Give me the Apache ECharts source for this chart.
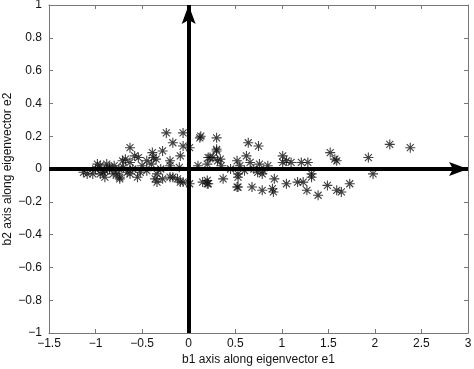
<!DOCTYPE html>
<html><head><meta charset="utf-8">
<script src="https://cdn.jsdelivr.net/npm/echarts@6/dist/echarts.min.js"></script>
<style>html,body{margin:0;padding:0;background:#fff}#c{width:474px;height:369px}</style>
</head><body><div id="c"></div>
<script>
var xTicks = [-1.5, -1, -0.5, 0, 0.5, 1, 1.5, 2, 2.5, 3];
var yTicks = [-1, -0.8, -0.6, -0.4, -0.2, 0, 0.2, 0.4, 0.6, 0.8, 1];
var b1 = [0.30,0.64,0.75,0.30,0.21,0.31,0.62,0.52,0.66,0.76,0.85,1.01,1.01,1.10,1.21,1.28,1.52,1.57,1.59,1.93,1.98,2.16,2.38,
  0.15,0.21,0.37,0.53,0.53,0.68,0.79,0.91,0.92,0.79,1.05,1.17,1.27,1.32,1.23,1.39,1.49,1.59,1.64,1.73,1.32,
  -0.24,-0.06,0.13,-0.17,-0.06,-0.63,-0.28,-0.39,-0.58,-0.54,-0.45,-0.35,-0.09,0.01,-0.71,-0.63,-0.98,-0.88,-0.85,0.23,-0.68,-0.38,-0.20,
  -0.92,-1.03,-1.13,-0.77,-0.66,-0.52,-0.34,-0.28,-0.17,-0.09,-1.09,-0.95,-0.90,-0.81,-0.74,-0.74,-0.63,-0.55,-0.36,-0.34,-0.20,-0.12,-0.06,0.01,0.20,0.52,
  -1.00,-0.95,-0.90,-0.85,-0.80,-0.75,-0.70,-0.60,-0.50,-0.45,-0.40,-0.30,-0.20,-0.10,0.10,0.20,0.35,0.45,0.55,0.60,0.70,
  0.12,0.30,0.26,0.34,1.05,0.20,0.53,0.90,0.80,0.74];
var b2 = [0.19,0.16,0.14,0.11,0.07,0.05,0.08,0.05,0.04,0.03,0.02,0.08,0.04,0.04,0.04,0.04,0.10,0.06,0.05,0.07,-0.03,0.15,0.13,
  -0.08,-0.09,-0.06,-0.05,-0.11,-0.11,-0.13,-0.14,-0.06,-0.03,-0.09,-0.08,-0.13,-0.05,-0.08,-0.16,-0.10,-0.13,-0.14,-0.09,-0.03,
  0.22,0.22,0.20,0.16,0.14,0.13,0.11,0.10,0.08,0.07,0.05,0.06,0.08,0.13,0.05,0.04,0.03,0.03,0.01,0.07,0.06,0.07,0.05,
  -0.02,-0.03,-0.02,-0.03,-0.02,-0.02,-0.03,-0.06,-0.05,-0.08,-0.03,-0.03,-0.05,-0.03,-0.05,-0.06,-0.03,-0.05,-0.06,-0.08,-0.05,-0.06,-0.08,-0.09,-0.09,-0.11,
  0.00,0.02,-0.01,0.00,0.02,0.00,0.01,0.00,0.02,-0.01,0.03,0.00,0.02,0.01,0.02,0.03,0.02,0.00,0.02,-0.01,0.00,
  0.19,0.12,0.07,0.06,0.05,-0.07,-0.03,-0.12,-0.01,-0.02];
var xLabel = 'b1 axis along eigenvector e1';
var yLabel = 'b2 axis along eigenvector e2';

var pts = b1.map(function(v, i){ return [v, b2[i]]; });
function fmt(v){ return String(+v.toFixed(2)).replace('-', '\u2212'); }
var FONT = 'Liberation Sans, Arial, sans-serif';
var frame = {show: true, onZero: false, lineStyle: {color: '#777', width: 1}};
var tickIn = {show: true, inside: true, length: 4, lineStyle: {color: '#777'}};
var arrowHead = 'path://M0,-19M0,0L7,19L0,15L-7,19Z';
var chart = echarts.init(document.getElementById('c'), null, {renderer: 'canvas'});
chart.setOption({
  animation: false,
  backgroundColor: '#fff',
  grid: {left: 49, right: 6, top: 5, bottom: 36, containLabel: false, outerBoundsMode: 'none'},
  xAxis: [{
    type: 'value', min: xTicks[0], max: xTicks[xTicks.length-1], interval: 0.5,
    axisLine: frame, axisTick: tickIn, splitLine: {show: false},
    axisLabel: {color: '#111', fontSize: 12, fontFamily: FONT, margin: 5, formatter: fmt, showMinLabel: true, showMaxLabel: true},
    name: xLabel, nameLocation: 'middle', nameGap: 21, nameMoveOverlap: false,
    nameTextStyle: {color: '#111', fontSize: 12, fontFamily: FONT}
  }, {
    type: 'value', position: 'top', min: xTicks[0], max: xTicks[xTicks.length-1], interval: 0.5,
    axisLine: frame, axisTick: tickIn, axisLabel: {show: false}, splitLine: {show: false}
  }],
  yAxis: [{
    type: 'value', min: yTicks[0], max: yTicks[yTicks.length-1], interval: 0.2,
    axisLine: frame, axisTick: tickIn, splitLine: {show: false},
    axisLabel: {color: '#111', fontSize: 12, fontFamily: FONT, margin: 7, formatter: fmt, showMinLabel: true, showMaxLabel: true},
    name: yLabel, nameLocation: 'middle', nameGap: 35, nameMoveOverlap: false,
    nameTextStyle: {color: '#111', fontSize: 12, fontFamily: FONT}
  }, {
    type: 'value', position: 'right', min: yTicks[0], max: yTicks[yTicks.length-1], interval: 0.2,
    axisLine: frame, axisTick: tickIn, axisLabel: {show: false}, splitLine: {show: false}
  }],
  series: [{
    type: 'scatter',
    data: pts,
    symbol: 'path://M0,-5L0,5M-5,0L5,0M-3.5,-3.5L3.5,3.5M-3.5,3.5L3.5,-3.5',
    symbolSize: 10,
    itemStyle: {color: 'none', borderColor: '#111', borderWidth: 1.1},
    z: 3
  }, {
    type: 'line', data: [], silent: true, z: 5,
    markLine: {
      silent: true, animation: false,
      symbol: ['none', arrowHead], symbolSize: 38, symbolKeepAspect: true,
      label: {show: false},
      lineStyle: {color: '#000', width: 4, type: 'solid'},
      data: [
        [{coord: [xTicks[0], 0]}, {coord: [xTicks[xTicks.length-1], 0], symbolKeepAspect: true}],
        [{coord: [0, yTicks[0]]}, {coord: [0, yTicks[yTicks.length-1]], symbolKeepAspect: true}]
      ]
    }
  }]
});
</script></body></html>
